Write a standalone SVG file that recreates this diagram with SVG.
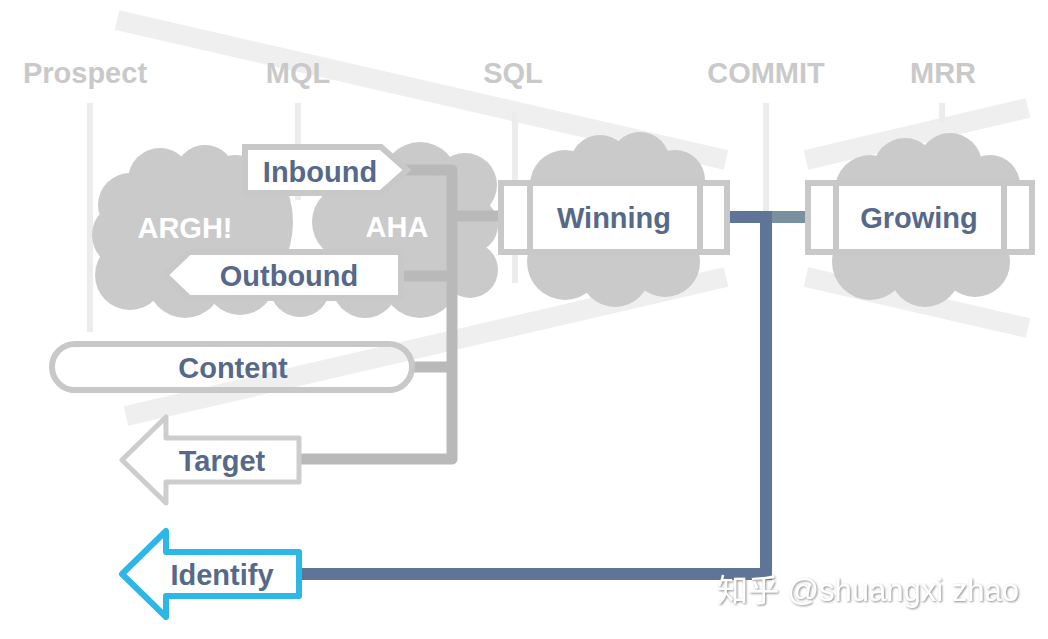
<svg xmlns="http://www.w3.org/2000/svg" width="1048" height="639" viewBox="0 0 1048 639">
<defs>
<style>
.band{stroke:#efefef;stroke-width:20;fill:none;stroke-linecap:butt}
.vline{stroke:#ececec;stroke-width:6;fill:none}
.hdr{font-family:"Liberation Sans",Arial,sans-serif;font-weight:bold;font-size:29px;fill:#c9c9c9;text-anchor:middle}
.lbl{font-family:"Liberation Sans",Arial,sans-serif;font-weight:bold;font-size:29px;fill:#56698b;text-anchor:middle}
.wlbl{font-family:"Liberation Sans",Arial,sans-serif;font-weight:bold;font-size:29px;fill:#ffffff;text-anchor:middle}
.cloud{fill:#cacaca}
.box{fill:#ffffff;stroke:#c8c8c8;stroke-width:6;stroke-linejoin:miter}
.gconn{fill:none;stroke:#b9b9b9;stroke-width:11;stroke-linejoin:round}
.bconn{fill:none;stroke:#5f7597;stroke-width:12;stroke-linejoin:miter}
.wm{font-family:"Liberation Sans",Arial,"Noto Sans CJK SC",sans-serif;font-size:31px;fill:#ffffff}
</style>
<filter id="shadow" x="-5%" y="-20%" width="110%" height="140%">
<feDropShadow dx="1" dy="1" stdDeviation="0.8" flood-color="#7a7a7a" flood-opacity="0.9"/>
</filter>
</defs>
<rect width="1048" height="639" fill="#ffffff"/>
<g id="background">
<line class="band" x1="117" y1="20" x2="726" y2="160"/>
<line class="band" x1="126" y1="416" x2="726" y2="277"/>
<line class="band" x1="806" y1="160" x2="1028" y2="108"/>
<line class="band" x1="806" y1="277" x2="1028" y2="328"/>
<line class="vline" x1="90" y1="103" x2="90" y2="332"/>
<line class="vline" x1="298" y1="103" x2="298" y2="200"/>
<line class="vline" x1="515" y1="112" x2="515" y2="283"/>
<line class="vline" x1="766" y1="103" x2="766" y2="212"/>
<line class="vline" x1="942" y1="103" x2="942" y2="122"/>
<text class="hdr" x="85" y="83">Prospect</text>
<text class="hdr" x="298" y="83">MQL</text>
<text class="hdr" x="513" y="83">SQL</text>
<text class="hdr" x="766" y="83">COMMIT</text>
<text class="hdr" x="943" y="83">MRR</text>
</g>
<g id="argh">
<g class="cloud">
<circle cx="130" cy="205" r="32"/>
<circle cx="160" cy="180" r="32"/>
<circle cx="205" cy="175" r="30"/>
<circle cx="235" cy="185" r="30"/>
<circle cx="125" cy="235" r="33"/>
<circle cx="130" cy="275" r="35"/>
<circle cx="185" cy="280" r="38"/>
<circle cx="240" cy="280" r="35"/>
<circle cx="300" cy="287" r="30"/>
<circle cx="190" cy="230" r="60"/>
<ellipse cx="255" cy="222" rx="38" ry="60"/>
</g>
<text class="wlbl" x="185" y="238">ARGH!</text>
</g>
<g id="aha">
<g class="cloud">
<circle cx="350" cy="222" r="38"/>
<circle cx="420" cy="180" r="38"/>
<circle cx="465" cy="185" r="32"/>
<circle cx="470" cy="225" r="28"/>
<circle cx="470" cy="270" r="28"/>
<circle cx="420" cy="280" r="38"/>
<circle cx="365" cy="285" r="33"/>
<circle cx="410" cy="230" r="50"/>
</g>
<text class="wlbl" x="397" y="237">AHA</text>
</g>
<g id="winning-cloud" class="cloud">
<circle cx="565" cy="185" r="35"/>
<circle cx="600" cy="165" r="30"/>
<circle cx="640" cy="162" r="30"/>
<circle cx="675" cy="180" r="30"/>
<circle cx="565" cy="262" r="38"/>
<circle cx="615" cy="272" r="35"/>
<circle cx="665" cy="262" r="35"/>
<circle cx="620" cy="220" r="60"/>
</g>
<g id="growing-cloud" class="cloud">
<circle cx="870" cy="190" r="35"/>
<circle cx="905" cy="170" r="32"/>
<circle cx="950" cy="165" r="32"/>
<circle cx="990" cy="185" r="30"/>
<circle cx="870" cy="262" r="38"/>
<circle cx="925" cy="272" r="35"/>
<circle cx="975" cy="262" r="35"/>
<circle cx="930" cy="220" r="60"/>
</g>
<g id="connectors">
<path class="gconn" d="M405,170 H452 V459 H300"/>
<path class="gconn" d="M452,216 H500"/>
<path class="gconn" d="M401,276 H452"/>
<path class="gconn" d="M412,367 H452"/>
<path fill="none" stroke="#7890a0" stroke-width="12" d="M772,217 H808"/>
<path class="bconn" d="M729,217 H766 V574 H300"/>
</g>
<g id="inbound">
<polygon class="box" points="245,147 381,147 407,170 381,193 245,193"/>
<text class="lbl" x="320" y="182">Inbound</text>
</g>
<g id="outbound">
<polygon class="box" points="189,252 401,252 401,298 189,298 165,275"/>
<text class="lbl" x="289" y="286">Outbound</text>
</g>
<g id="winning">
<rect class="box" x="501" y="183" width="226" height="69"/>
<line x1="530" y1="183" x2="530" y2="252" stroke="#c8c8c8" stroke-width="6"/>
<line x1="700" y1="183" x2="700" y2="252" stroke="#c8c8c8" stroke-width="6"/>
<text class="lbl" x="614" y="228">Winning</text>
</g>
<g id="growing">
<rect class="box" x="808" y="183" width="224" height="69"/>
<line x1="836" y1="183" x2="836" y2="252" stroke="#c8c8c8" stroke-width="6"/>
<line x1="1004" y1="183" x2="1004" y2="252" stroke="#c8c8c8" stroke-width="6"/>
<text class="lbl" x="919" y="228">Growing</text>
</g>
<g id="content">
<rect x="52" y="344" width="360" height="46" rx="23" fill="none" stroke="#c8c8c8" stroke-width="6"/>
<text class="lbl" x="233" y="378">Content</text>
</g>
<g id="target">
<polygon points="122,460 166,417 166,438 299,438 299,482 166,482 166,503" fill="#ffffff" stroke="#cdcdcd" stroke-width="5" stroke-linejoin="round"/>
<text class="lbl" x="222" y="471">Target</text>
</g>
<g id="identify">
<polygon points="122,574 166,531 166,552 299,552 299,596 166,596 166,617" fill="#ffffff" stroke="#2db6e8" stroke-width="6" stroke-linejoin="round"/>
<text class="lbl" x="222" y="585">Identify</text>
</g>
<text class="wm" x="717" y="601" filter="url(#shadow)">知乎 @shuangxi zhao</text>
</svg>
